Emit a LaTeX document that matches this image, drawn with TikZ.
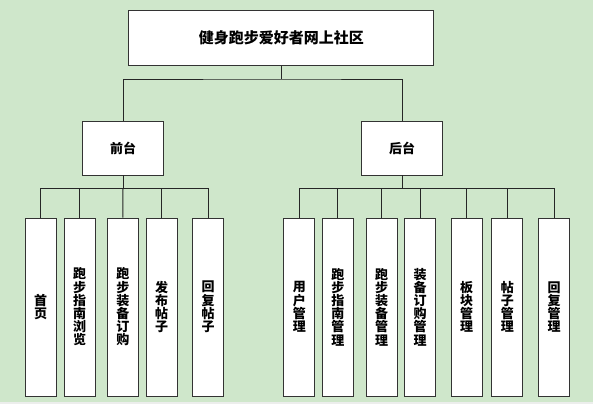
\documentclass[tikz,border=0pt]{standalone}
\usepackage{fontspec}
\usepackage{xcolor}
\usepackage{tikz}
\newfontfamily\cjk{Noto Sans CJK SC}
\definecolor{bggreen}{RGB}{207,231,203}
\definecolor{bandgray}{RGB}{236,238,236}

\begin{document}
\begin{tikzpicture}[x=1pt,y=-1pt,
  box/.style={draw=black!80,line width=0.9pt,fill=white,inner sep=0pt,align=center},
  leaf/.style={box,minimum width=31pt,minimum height=178pt,font=\cjk\bfseries\fontsize{13}{13.2}\selectfont},
  mid/.style={box,minimum width=81pt,minimum height=54pt,font=\cjk\bfseries\fontsize{13}{15}\selectfont},
  link/.style={black!85,line width=1pt}]
\fill[bggreen] (0,0) rectangle (593,404);
\fill[bandgray] (0,402) rectangle (593,404);
\useasboundingbox (0,0) rectangle (593,404);

\node[box,minimum width=305pt,minimum height=55pt,font=\cjk\bfseries\fontsize{15}{17}\selectfont] (root) at (281.3,38) {健身跑步爱好者网上社区};

\node[mid] (front) at (123,148) {前台};
\node[mid] (back) at (402,148) {后台};

\coordinate (rootbus) at (281.3,79);
\coordinate (frontbus) at (123,188.7);
\coordinate (backbus) at (402,188.7);

\draw[link] (root.south) -- (rootbus);
\draw[link] (front.north) |- (rootbus) -| (back.north);
\draw[link] (front.south) -- (frontbus);
\draw[link] (back.south) -- (backbus);

% front leaves
\node[leaf] (home) at (40.7,307) {首\\页};
\node[leaf] (guide) at (79.5,307) {跑\\步\\指\\南\\浏\\览};
\node[leaf] (order) at (122.8,307) {跑\\步\\装\\备\\订\\购};
\node[leaf] (post) at (161.5,307) {发\\布\\帖\\子};
\node[leaf] (reply) at (208,307) {回\\复\\帖\\子};

% back leaves
\node[leaf] (usermgr) at (299.3,307) {用\\户\\管\\理};
\node[leaf] (guidemgr) at (337.8,307) {跑\\步\\指\\南\\管\\理};
\node[leaf] (gearmgr) at (381.7,307) {跑\\步\\装\\备\\管\\理};
\node[leaf] (ordermgr) at (420,307) {装\\备\\订\\购\\管\\理};
\node[leaf] (boardmgr) at (466.7,307) {板\\块\\管\\理};
\node[leaf] (postmgr) at (507.3,307) {帖\\子\\管\\理};
\node[leaf] (replymgr) at (554,307) {回\\复\\管\\理};

\draw[link] (home.north) |- (frontbus);
\draw[link] (guide.north) |- (frontbus);
\draw[link] (order.north) -- (frontbus);
\draw[link] (post.north) |- (frontbus);
\draw[link] (reply.north) |- (frontbus);

\draw[link] (usermgr.north) |- (backbus);
\draw[link] (guidemgr.north) |- (backbus);
\draw[link] (gearmgr.north) |- (backbus);
\draw[link] (ordermgr.north) |- (backbus);
\draw[link] (boardmgr.north) |- (backbus);
\draw[link] (postmgr.north) |- (backbus);
\draw[link] (replymgr.north) |- (backbus);
\end{tikzpicture}
\end{document}
